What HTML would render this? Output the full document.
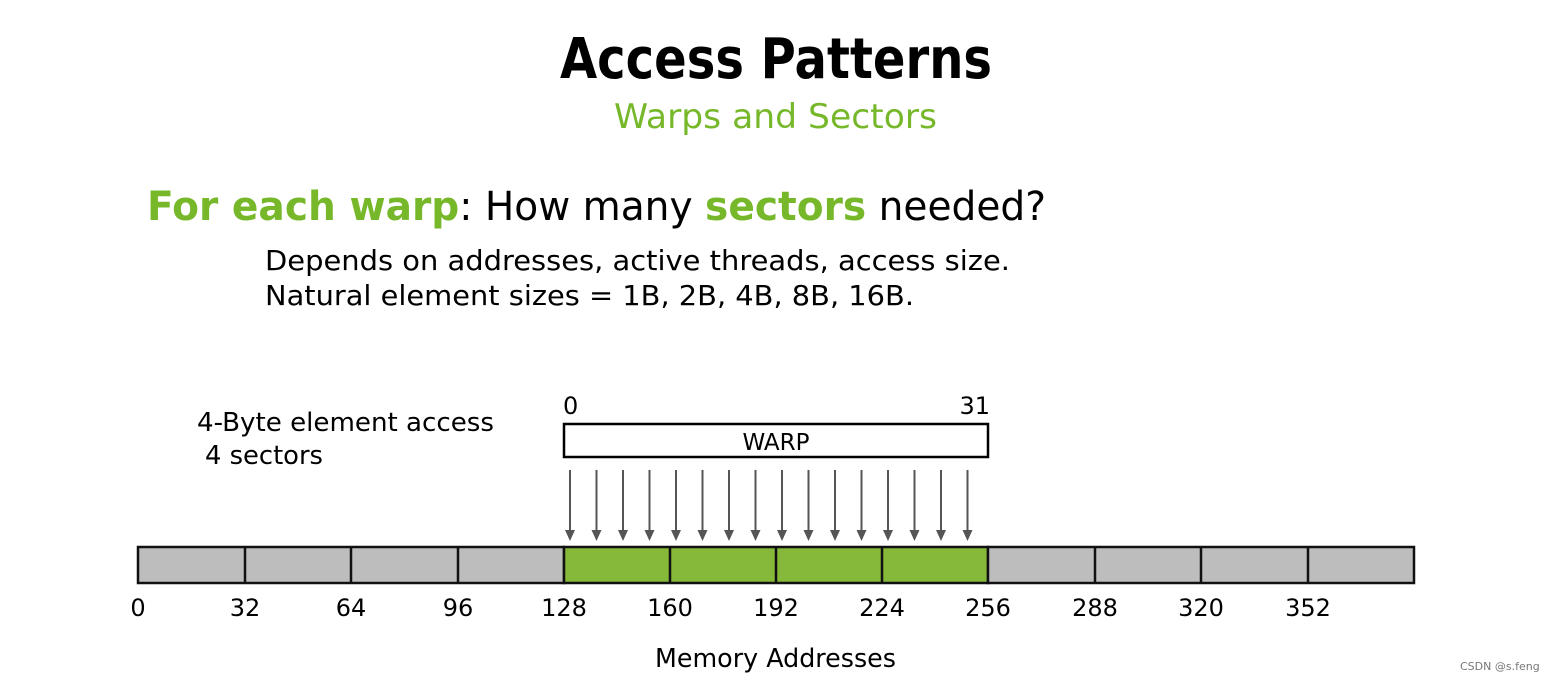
<!DOCTYPE html>
<html><head><meta charset="utf-8"><style>
html,body{margin:0;padding:0;background:#fff;width:1550px;height:682px;overflow:hidden}
svg{display:block}
text{font-family:"DejaVu Sans","Liberation Sans",sans-serif}
</style></head><body>
<svg width="1550" height="682" viewBox="0 0 1550 682" xmlns="http://www.w3.org/2000/svg">
<text x="560" y="78" font-size="56" font-weight="bold" fill="#000" textLength="432" lengthAdjust="spacingAndGlyphs">Access Patterns</text>
<text x="614" y="128" font-size="34" fill="#76b82a" textLength="323" lengthAdjust="spacingAndGlyphs">Warps and Sectors</text>
<text x="147" y="220" font-size="40" fill="#000" textLength="899" lengthAdjust="spacingAndGlyphs"><tspan fill="#76b82a" font-weight="bold">For each warp</tspan>: How many <tspan fill="#76b82a" font-weight="bold">sectors</tspan> needed?</text>
<text x="265" y="270" font-size="28" fill="#000" textLength="745" lengthAdjust="spacingAndGlyphs">Depends on addresses, active threads, access size.</text>
<text x="265" y="305" font-size="28" fill="#000" textLength="649" lengthAdjust="spacingAndGlyphs">Natural element sizes = 1B, 2B, 4B, 8B, 16B.</text>
<text x="197" y="431" font-size="26" fill="#000" textLength="297" lengthAdjust="spacingAndGlyphs">4-Byte element access</text>
<text x="205" y="464" font-size="26" fill="#000" textLength="118" lengthAdjust="spacingAndGlyphs">4 sectors</text>
<text x="563" y="414" font-size="24" fill="#000">0</text>
<text x="990" y="414" font-size="24" fill="#000" text-anchor="end">31</text>
<rect x="564" y="424" width="424" height="33" fill="#fff" stroke="#000" stroke-width="2.5"/>
<text x="776" y="450" font-size="23" fill="#000" text-anchor="middle">WARP</text>
<g stroke="#555" stroke-width="2" fill="#555">
<g id="arrows"></g>
</g>
<g stroke="#555" stroke-width="2">
<line x1="570" y1="470" x2="570" y2="532"/><line x1="596.5" y1="470" x2="596.5" y2="532"/><line x1="623" y1="470" x2="623" y2="532"/><line x1="649.5" y1="470" x2="649.5" y2="532"/><line x1="676" y1="470" x2="676" y2="532"/><line x1="702.5" y1="470" x2="702.5" y2="532"/><line x1="729" y1="470" x2="729" y2="532"/><line x1="755.5" y1="470" x2="755.5" y2="532"/><line x1="782" y1="470" x2="782" y2="532"/><line x1="808.5" y1="470" x2="808.5" y2="532"/><line x1="835" y1="470" x2="835" y2="532"/><line x1="861.5" y1="470" x2="861.5" y2="532"/><line x1="888" y1="470" x2="888" y2="532"/><line x1="914.5" y1="470" x2="914.5" y2="532"/><line x1="941" y1="470" x2="941" y2="532"/><line x1="967.5" y1="470" x2="967.5" y2="532"/>
</g>
<g fill="#555">
<polygon points="565,530 575,530 570,541"/><polygon points="591.5,530 601.5,530 596.5,541"/><polygon points="618,530 628,530 623,541"/><polygon points="644.5,530 654.5,530 649.5,541"/><polygon points="671,530 681,530 676,541"/><polygon points="697.5,530 707.5,530 702.5,541"/><polygon points="724,530 734,530 729,541"/><polygon points="750.5,530 760.5,530 755.5,541"/><polygon points="777,530 787,530 782,541"/><polygon points="803.5,530 813.5,530 808.5,541"/><polygon points="830,530 840,530 835,541"/><polygon points="856.5,530 866.5,530 861.5,541"/><polygon points="883,530 893,530 888,541"/><polygon points="909.5,530 919.5,530 914.5,541"/><polygon points="936,530 946,530 941,541"/><polygon points="962.5,530 972.5,530 967.5,541"/>
</g>
<g stroke="#111" stroke-width="2.5">
<rect x="138" y="547" width="426" height="36" fill="#bdbdbd"/>
<rect x="564" y="547" width="424" height="36" fill="#86b83a"/>
<rect x="988" y="547" width="426" height="36" fill="#bdbdbd"/>
<line x1="245" y1="547" x2="245" y2="583"/><line x1="351" y1="547" x2="351" y2="583"/><line x1="458" y1="547" x2="458" y2="583"/>
<line x1="670" y1="547" x2="670" y2="583"/><line x1="776" y1="547" x2="776" y2="583"/><line x1="882" y1="547" x2="882" y2="583"/>
<line x1="1095" y1="547" x2="1095" y2="583"/><line x1="1201" y1="547" x2="1201" y2="583"/><line x1="1308" y1="547" x2="1308" y2="583"/>
</g>
<g font-size="24" fill="#000" text-anchor="middle">
<text x="138" y="616">0</text><text x="245" y="616">32</text><text x="351" y="616">64</text><text x="458" y="616">96</text><text x="564" y="616">128</text><text x="670" y="616">160</text><text x="776" y="616">192</text><text x="882" y="616">224</text><text x="988" y="616">256</text><text x="1095" y="616">288</text><text x="1201" y="616">320</text><text x="1308" y="616">352</text>
</g>
<text x="655" y="667" font-size="26" fill="#000" textLength="241" lengthAdjust="spacingAndGlyphs">Memory Addresses</text>
<text x="1460" y="670" font-size="11" fill="#777" font-family="Liberation Sans, sans-serif">CSDN @s.feng</text>
</svg>
</body></html>
